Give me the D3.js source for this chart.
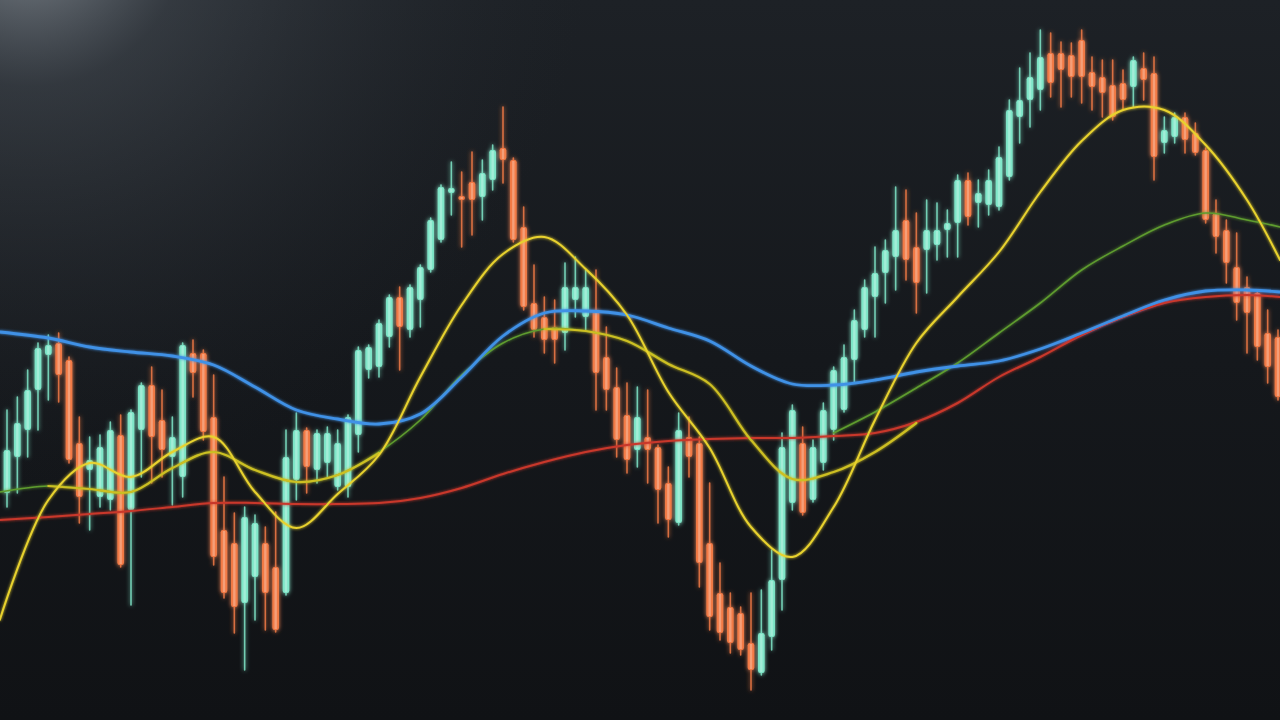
<!DOCTYPE html>
<html><head><meta charset="utf-8">
<script src="https://cdn.jsdelivr.net/npm/d3@7"></script>
<style>html,body{margin:0;padding:0;background:#14171b;overflow:hidden}</style>
</head><body><svg id="chart" width="1280" height="720"></svg>
<script>
// ---- candle data (price units) ----
const opens = [122.7,126.3,129.0,133.0,136.5,137.7,136.0,127.7,125.0,122.3,122.0,128.5,121.0,129.0,133.5,130.0,126.3,124.3,136.7,136.7,
130.3,119.0,117.7,111.7,114.3,117.7,115.3,112.7,124.0,129.0,125.0,125.7,123.3,123.3,128.5,135.0,135.3,138.3,142.3,139.0,
142.0,145.0,148.0,152.7,152.4,153.8,152.3,154.0,157.2,156.0,149.3,141.7,140.3,139.3,138.7,142.0,140.3,141.0,136.3,133.3,
130.5,127.0,128.3,127.3,123.7,119.7,128.3,127.7,117.7,112.7,111.3,110.7,107.7,104.7,108.3,114.0,121.7,127.7,122.0,125.7,
129.0,131.0,136.0,139.0,142.3,144.7,146.3,150.0,147.3,147.0,147.5,149.0,149.7,154.0,151.7,151.5,151.3,154.3,160.3,162.0,
163.0,166.7,166.7,166.5,168.0,164.8,164.3,163.5,163.7,163.3,165.2,164.7,157.7,158.3,160.3,158.7,157.0,150.7,149.0,145.3,
143.3,142.7,138.7,138.3];
const highs = [131.0,132.3,135.0,137.7,138.5,138.7,136.3,130.3,128.3,128.5,129.8,130.5,131.0,133.7,135.3,133.0,130.3,137.7,138.0,137.0,
134.5,124.3,120.7,121.3,120.5,119.3,120.8,129.0,130.7,129.2,129.0,129.3,129.0,130.5,137.3,137.5,140.0,142.5,143.3,143.5,
145.5,150.2,153.5,155.8,154.8,156.8,156.0,157.5,161.3,156.2,151.3,145.5,142.3,142.0,145.7,146.3,145.0,145.0,139.3,135.2,
133.7,133.3,133.0,127.5,125.3,130.7,130.3,128.3,123.7,115.7,112.7,111.3,112.7,113.0,117.0,128.7,131.5,129.3,128.0,131.7,
135.3,137.5,141.0,144.0,147.3,148.0,153.3,153.0,150.7,152.0,151.7,151.0,154.5,154.7,154.0,155.0,157.3,162.0,165.2,166.7,
169.0,168.7,167.8,167.7,169.0,166.3,166.0,166.0,165.0,166.3,166.7,166.3,160.3,160.7,160.7,159.7,157.2,152.0,150.0,148.7,
144.3,143.0,141.0,139.0];
const lows = [121.3,122.7,126.3,129.0,132.0,131.8,125.7,119.7,119.0,121.3,121.0,115.3,111.5,124.3,123.7,124.3,121.5,122.3,132.3,128.0,
115.5,112.2,108.7,105.0,110.0,109.0,108.8,112.5,122.0,122.7,123.7,124.3,123.0,122.3,126.8,134.2,134.3,137.3,135.0,138.3,
139.3,144.8,147.8,150.5,147.3,148.5,150.0,153.0,153.7,147.8,141.0,138.3,136.7,135.7,137.0,140.3,139.0,131.0,131.0,126.3,
124.7,125.3,123.7,119.7,118.3,119.5,124.3,113.3,109.0,108.0,106.7,106.5,103.0,104.5,107.0,111.0,121.0,120.5,121.8,125.0,
128.0,130.8,133.7,138.3,138.3,141.7,143.0,144.0,140.7,142.7,146.0,146.3,146.3,149.5,149.3,150.5,151.0,154.0,157.7,159.3,
161.0,162.3,161.3,162.3,161.7,161.0,160.3,160.0,161.0,161.3,162.0,154.0,156.7,157.7,156.7,156.5,149.7,146.7,143.7,140.0,
136.7,136.0,133.7,132.0];
const closes = [127.0,129.7,133.0,137.2,137.5,134.5,126.0,122.3,126.0,127.3,129.0,115.5,130.8,133.5,128.3,127.0,128.3,137.5,134.7,128.8,
116.3,112.7,111.3,120.3,119.7,112.7,109.0,126.3,129.0,125.3,128.7,128.7,127.7,130.3,137.0,137.3,139.7,142.3,139.3,143.3,
145.3,150.0,153.3,153.2,152.0,152.0,154.7,157.0,156.0,148.0,141.3,139.0,138.0,138.0,143.3,143.3,143.3,134.7,133.0,128.0,
126.0,130.3,127.0,123.0,120.0,129.0,126.3,115.7,110.3,108.7,107.7,107.0,105.0,108.7,114.0,127.3,131.0,120.7,127.3,131.0,
135.0,136.3,140.0,143.3,144.7,147.0,149.0,146.0,143.7,149.0,149.0,149.7,154.0,150.3,152.7,154.0,156.3,161.0,162.0,164.3,
166.3,163.7,165.0,164.3,164.3,163.3,162.7,160.3,162.0,166.0,164.0,156.3,159.0,160.3,158.0,156.7,150.0,148.3,145.7,141.7,
140.7,137.3,135.3,132.3];

// ---- moving-average lines, sampled at candle positions ----
const lineIdx = [-0.7,4,8,12,16,20,24,28,32,36,40,44,48,52,56,60,64,68,72,76,80,84,88,92,96,100,104,108,112,116,120,123.2];
const maBlue = [138.8,138.2,137.3,136.8,136.4,135.5,133.3,131.0,130.1,129.6,130.6,134.3,138.4,140.7,140.9,140.5,139.2,137.9,135.4,133.6,
133.5,134.0,134.8,135.4,135.9,137.1,138.7,140.4,142.0,142.9,143.0,142.8];
const maRed = [120.0,120.3,120.6,120.9,121.3,121.7,121.7,121.6,121.6,121.7,122.2,123.2,124.6,125.8,126.8,127.5,127.9,128.1,128.2,128.2,
128.4,128.7,129.8,131.7,134.3,136.3,138.5,140.3,141.7,142.3,142.5,142.3];
const maGreen = [122.8,123.4,123.1,122.8,125.2,126.8,125.0,123.8,124.5,126.8,130.0,134.5,137.7,139.1,138.9,137.9,135.6,null,null,null,
128.7,130.8,133.2,135.7,138.7,141.7,145.0,147.4,149.5,150.7,150.0,149.3];
const maOlive = [null,123.4,123.1,122.8,125.2,126.8,125.0,123.8,124.5,126.7,null,null,null,139.1,138.9,137.9,135.6,133.6,128.0,124.1,
124.8,126.8,129.7,null,null,null,null,null,null,null,null,null];
const maYellow = [110.0,122.0,125.7,124.3,126.8,128.3,122.8,119.2,122.6,126.5,134.3,141.5,146.6,148.3,145.1,140.5,132.8,127.2,119.3,116.3,
121.3,130.0,137.7,142.3,146.8,152.8,157.9,161.0,161.0,157.5,152.0,146.0];

const W = 1280, H = 720;
const svg = d3.select("#chart");
const defs = svg.append("defs");

// background
const lg = defs.append("linearGradient").attr("id","bg").attr("x1",0).attr("y1",0).attr("x2",0).attr("y2",1);
lg.append("stop").attr("offset","0%").attr("stop-color","#1d2126");
lg.append("stop").attr("offset","50%").attr("stop-color","#15181c");
lg.append("stop").attr("offset","100%").attr("stop-color","#101215");
const rg = defs.append("radialGradient").attr("id","glowbg").attr("gradientUnits","userSpaceOnUse")
  .attr("cx",30).attr("cy",-70).attr("r",560);
rg.append("stop").attr("offset","0%").attr("stop-color","#b3bcc4").attr("stop-opacity",0.7);
rg.append("stop").attr("offset","28%").attr("stop-color","#6a737d").attr("stop-opacity",0.3);
rg.append("stop").attr("offset","100%").attr("stop-color","#2a2f36").attr("stop-opacity",0);

const f = defs.append("filter").attr("id","glow").attr("x","-100%").attr("y","-20%").attr("width","300%").attr("height","140%");
f.append("feGaussianBlur").attr("in","SourceGraphic").attr("stdDeviation",2.2).attr("result","b");
const fm = f.append("feMerge");
fm.append("feMergeNode").attr("in","b");
fm.append("feMergeNode").attr("in","SourceGraphic");

const f2 = defs.append("filter").attr("id","lglow").attr("x","-10%").attr("y","-10%").attr("width","120%").attr("height","120%");
f2.append("feGaussianBlur").attr("in","SourceGraphic").attr("stdDeviation",1.6).attr("result","b");
const fm2 = f2.append("feMerge");
fm2.append("feMergeNode").attr("in","b");
fm2.append("feMergeNode").attr("in","SourceGraphic");

svg.append("rect").attr("width",W).attr("height",H).attr("fill","url(#bg)");
svg.append("rect").attr("width",W).attr("height",H).attr("fill","url(#glowbg)");

const x = d3.scaleLinear().domain([0, opens.length - 1]).range([7, 1278]);
const y = d3.scaleLinear().domain([100, 172]).range([H, 0]);

const candles = opens.map((o, i) => ({i, o, h: highs[i], l: lows[i], c: closes[i]}));
const upCol = "#7fe6c8", downCol = "#f27a45";
const bodyW = 6.6;

const cg = svg.append("g").attr("filter","url(#glow)");
const g = cg.selectAll("g.c").data(candles).join("g").attr("class","c");
g.append("line")
  .attr("x1", d => x(d.i)).attr("x2", d => x(d.i))
  .attr("y1", d => y(d.h)).attr("y2", d => y(d.l))
  .attr("stroke", d => d.c >= d.o ? upCol : downCol)
  .attr("stroke-width", 1.6).attr("stroke-opacity", 0.85).attr("stroke-linecap","round");
g.append("rect")
  .attr("x", d => x(d.i) - bodyW / 2)
  .attr("width", bodyW)
  .attr("y", d => y(Math.max(d.o, d.c)))
  .attr("height", d => Math.max(2, Math.abs(y(d.o) - y(d.c))))
  .attr("rx", 2.2)
  .attr("fill", d => d.c >= d.o ? upCol : downCol);
g.append("rect")
  .attr("x", d => x(d.i) - 1.2)
  .attr("width", 2.4)
  .attr("y", d => y(Math.max(d.o, d.c)) + 1)
  .attr("height", d => Math.max(0.5, Math.abs(y(d.o) - y(d.c)) - 2))
  .attr("fill", "#ffffff").attr("fill-opacity", 0.28);

// lines
const lineGen = d3.line()
  .defined(d => d.v != null)
  .x(d => x(d.i)).y(d => y(d.v))
  .curve(d3.curveCatmullRom.alpha(0.5));
const series = [
  {vals: maRed, color: "#c9372c", w: 2.0},
  {vals: maGreen, color: "#5e9c2f", w: 1.6},
  {vals: maBlue, color: "#3f91e6", w: 2.8},
  {vals: maOlive, color: "#cdbf22", w: 2.2},
  {vals: maYellow, color: "#e8d22e", w: 2.0}
];
const lg2 = svg.append("g").attr("filter","url(#lglow)");
series.forEach(s => {
  lg2.append("path")
    .datum(lineIdx.map((i, k) => ({i, v: s.vals[k]})))
    .attr("d", lineGen)
    .attr("fill","none")
    .attr("stroke", s.color)
    .attr("stroke-width", s.w)
    .attr("stroke-linecap","round");
});
</script>
</body></html>
